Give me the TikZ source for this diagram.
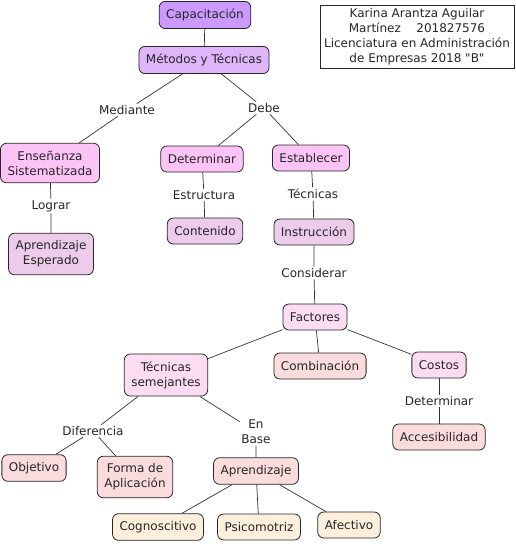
\documentclass[tikz,border=0pt]{standalone}
\usepackage{fontspec}
\setmainfont{DejaVu Sans}[Ligatures=TeXOff]
\definecolor{cmpurple}{HTML}{CC99FF}
\definecolor{cmlilac}{HTML}{DDB5F8}
\definecolor{cmpink}{HTML}{FCC4F6}
\definecolor{cmmauve}{HTML}{ECCCEA}
\definecolor{cmrose}{HTML}{FBDCF3}
\definecolor{cmsalmon}{HTML}{FADCDD}
\definecolor{cmcream}{HTML}{FCF0DC}

\begin{document}
\begin{tikzpicture}[x=1pt, y=-1pt,
  every node/.style={font=\fontsize{12}{15}\selectfont, text=black!85},
  box/.style={draw=black!85, rounded corners=6pt, line width=0.8pt, align=center,
              inner xsep=7pt, inner ysep=7.5pt, minimum height=26pt},
  lbl/.style={align=center, inner sep=1.5pt},
  link/.style={draw=black!80, line width=0.7pt}]
\useasboundingbox (0,0) rectangle (516,544);
% Top
\node[box, fill=cmpurple] (cap) at (205,15) {Capacitación};
\node[box, fill=cmlilac] (met) at (204,60) {Métodos y Técnicas};
\node[draw=black!85, line width=0.8pt, fill=white, align=center, inner sep=3pt,
      minimum width=194pt] (autor) at (417,37)
      {Karina Arantza Aguilar\\Martínez\hspace{1.3em}201827576\\Licenciatura en Administración\\de Empresas 2018 "B"};
% Second level
\node[lbl] (mediante) at (127,110) {Mediante};
\node[lbl] (debe) at (264,108) {Debe};
\node[box, fill=cmpink] (ense) at (50,163) {Enseñanza\\Sistematizada};
\node[box, fill=cmpink] (deter) at (202,159) {Determinar};
\node[box, fill=cmpink] (estab) at (311,158) {Establecer};
\node[lbl] (lograr) at (51,206) {Lograr};
\node[lbl] (estruct) at (204,195) {Estructura};
\node[lbl] (tecn) at (313,194) {Técnicas};
\node[box, fill=cmmauve] (aprendesp) at (51,254) {Aprendizaje\\Esperado};
\node[box, fill=cmmauve] (conten) at (205,231) {Contenido};
\node[box, fill=cmmauve] (instr) at (314,232) {Instrucción};
\node[lbl] (consid) at (314,273) {Considerar};
% Factores
\node[box, fill=cmrose] (fact) at (315,317) {Factores};
\node[box, fill=cmrose] (tsem) at (166,375) {Técnicas\\semejantes};
\node[box, fill=cmsalmon] (combin) at (320,366) {Combinación};
\node[box, fill=cmrose] (costos) at (439,365) {Costos};
\node[lbl] (determ) at (439,401) {Determinar};
\node[box, fill=cmsalmon] (acces) at (439,437) {Accesibilidad};
% Bottom
\node[lbl] (difer) at (93,431) {Diferencia};
\node[lbl] (enbase) at (256,432) {En\\Base};
\node[box, fill=cmsalmon] (objet) at (34,468) {Objetivo};
\node[box, fill=cmsalmon] (forma) at (135,477) {Forma de\\Aplicación};
\node[box, fill=cmsalmon] (aprend) at (256,471) {Aprendizaje};
\node[box, fill=cmcream] (cogn) at (158,527) {Cognoscitivo};
\node[box, fill=cmcream] (psico) at (259,527) {Psicomotriz};
\node[box, fill=cmcream] (afect) at (349,525) {Afectivo};
% Links
\path[link] (cap) -- (met);
\path[link] (met) -- (mediante) -- (ense);
\path[link] (met) -- (debe) -- (deter);
\path[link] (debe) -- (estab);
\path[link] (ense) -- (lograr) -- (aprendesp);
\path[link] (deter) -- (estruct) -- (conten);
\path[link] (estab) -- (tecn) -- (instr);
\path[link] (instr) -- (consid) -- (fact);
\path[link] (fact) -- (tsem);
\path[link] (fact) -- (combin);
\path[link] (fact) -- (costos);
\path[link] (costos) -- (determ) -- (acces);
\path[link] (tsem) -- (difer) -- (objet);
\path[link] (difer) -- (forma);
\path[link] (tsem) -- (enbase) -- (aprend);
\path[link] (aprend) -- (cogn);
\path[link] (aprend) -- (psico);
\path[link] (aprend) -- (afect);
\end{tikzpicture}
\end{document}
